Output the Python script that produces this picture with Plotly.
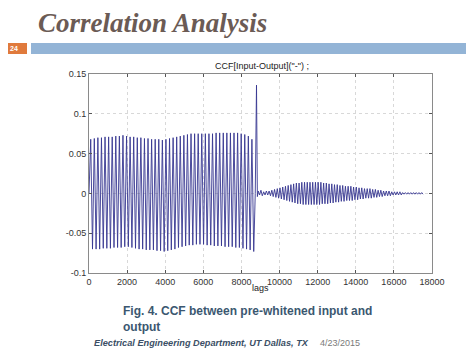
import plotly.graph_objects as go

# ---- data (extrema of the CCF curve) ----
seg1_peak_lags = [90, 278, 466, 654, 842, 1030, 1218, 1406, 1594, 1782, 1970, 2158, 2346, 2534, 2722,
                  2910, 3098, 3286, 3474, 3662, 3850, 4038, 4226, 4414, 4602, 4790, 4978, 5166, 5354,
                  5542, 5730, 5918, 6106, 6294, 6482, 6670, 6858, 7046, 7234, 7422, 7610, 7798, 7986,
                  8174, 8362, 8550]
seg1_peak_vals = [0.068, 0.069, 0.070, 0.070, 0.071, 0.071, 0.071, 0.072, 0.072, 0.073, 0.072, 0.071,
                  0.071, 0.070, 0.070, 0.069, 0.069, 0.068, 0.068, 0.068, 0.067, 0.068, 0.069, 0.070,
                  0.071, 0.072, 0.073, 0.074, 0.075, 0.075, 0.075, 0.075, 0.075, 0.075, 0.075, 0.076,
                  0.076, 0.076, 0.076, 0.076, 0.076, 0.076, 0.075, 0.074, 0.072, 0.068]
seg1_trough_lags = [184, 372, 560, 748, 936, 1124, 1312, 1500, 1688, 1876, 2064, 2252, 2440, 2628, 2816,
                    3004, 3192, 3380, 3568, 3756, 3944, 4132, 4320, 4508, 4696, 4884, 5072, 5260, 5448,
                    5636, 5824, 6012, 6200, 6388, 6576, 6764, 6952, 7140, 7328, 7516, 7704, 7892, 8080,
                    8268, 8456, 8644]
seg1_trough_vals = [-0.070, -0.070, -0.070, -0.069, -0.069, -0.069, -0.068, -0.068, -0.068, -0.067,
                    -0.067, -0.068, -0.069, -0.070, -0.070, -0.071, -0.071, -0.071, -0.072, -0.072,
                    -0.073, -0.072, -0.071, -0.070, -0.068, -0.067, -0.066, -0.065, -0.065, -0.064,
                    -0.064, -0.064, -0.065, -0.065, -0.066, -0.066, -0.066, -0.067, -0.067, -0.067,
                    -0.068, -0.068, -0.069, -0.070, -0.071, -0.073]

spike_lags = [0, 8725, 8790, 8835]
spike_vals = [0.0, 0.0, 0.136, -0.004]

seg2_peak_lags = [8880, 9023, 9166, 9309, 9452, 9595, 9738, 9881, 10024, 10167, 10310, 10453, 10596,
                  10739, 10882, 11025, 11168, 11311, 11454, 11597, 11740, 11883, 12026, 12169, 12312,
                  12455, 12598, 12741, 12884, 13027, 13170, 13313, 13456, 13599, 13742, 13885, 14028,
                  14171, 14314, 14457, 14600, 14743, 14886, 15029, 15172, 15315, 15458, 15601, 15744,
                  15887, 16030, 16173, 16316, 16459, 16602, 16745, 16888, 17031, 17174, 17317, 17460]
seg2_peak_vals = [0.003, 0.004, 0.002, 0.003, 0.003, 0.004, 0.005, 0.006, 0.007, 0.008, 0.009, 0.010,
                  0.011, 0.012, 0.013, 0.013, 0.014, 0.014, 0.014, 0.014, 0.014, 0.014, 0.014, 0.014,
                  0.013, 0.013, 0.012, 0.012, 0.011, 0.011, 0.010, 0.010, 0.009, 0.009, 0.009, 0.008,
                  0.008, 0.007, 0.007, 0.006, 0.006, 0.006, 0.005, 0.005, 0.004, 0.004, 0.003, 0.003,
                  0.003, 0.002, 0.002, 0.002, 0.002, 0.001, 0.001, 0.001, 0.001, 0.001, 0.001, 0.001,
                  0.001]
seg2_trough_lags = [8951, 9094, 9237, 9380, 9523, 9666, 9809, 9952, 10095, 10238, 10381, 10524, 10667,
                    10810, 10953, 11096, 11239, 11382, 11525, 11668, 11811, 11954, 12097, 12240, 12383,
                    12526, 12669, 12812, 12955, 13098, 13241, 13384, 13527, 13670, 13813, 13956, 14099,
                    14242, 14385, 14528, 14671, 14814, 14957, 15100, 15243, 15386, 15529, 15672, 15815,
                    15958, 16101, 16244, 16387, 16530, 16673, 16816, 16959, 17102, 17245, 17388, 17531]
seg2_trough_vals = [-0.002, -0.003, -0.002, -0.002, -0.003, -0.004, -0.005, -0.006, -0.007, -0.008,
                    -0.009, -0.010, -0.011, -0.012, -0.013, -0.013, -0.014, -0.014, -0.014, -0.014,
                    -0.014, -0.014, -0.014, -0.013, -0.013, -0.013, -0.012, -0.012, -0.011, -0.011,
                    -0.010, -0.010, -0.009, -0.009, -0.009, -0.008, -0.008, -0.007, -0.007, -0.006,
                    -0.006, -0.006, -0.005, -0.005, -0.004, -0.004, -0.003, -0.003, -0.003, -0.002,
                    -0.002, -0.002, -0.002, -0.001, -0.001, -0.001, -0.001, -0.001, -0.001, -0.001,
                    -0.001]

x_ticks = [0, 2000, 4000, 6000, 8000, 10000, 12000, 14000, 16000, 18000]
y_ticks = [-0.1, -0.05, 0, 0.05, 0.1, 0.15]
y_tick_labels = ["-0.1", "-0.05", "0", "0.05", "0.1", "0.15"]

# ---- assemble the curve ----
pts = list(zip(seg1_peak_lags, seg1_peak_vals)) + list(zip(seg1_trough_lags, seg1_trough_vals)) \
    + list(zip(spike_lags, spike_vals)) \
    + list(zip(seg2_peak_lags, seg2_peak_vals)) + list(zip(seg2_trough_lags, seg2_trough_vals))
pts.sort(key=lambda p: p[0])
lags = [p[0] for p in pts]
ccf = [p[1] for p in pts]

# The page body has an 8px default margin, so the figure is sized to fill the rest.
OFF = 8
W, H = 474 - OFF, 355 - OFF
L, R, T, B = 89, 432, 74, 273   # plot box in page pixels


def px(x):
    return (x - OFF) / W


def py(y):
    return 1 - (y - OFF) / H


fig = go.Figure()
fig.add_trace(go.Scatter(x=lags, y=ccf, mode="lines",
                         line=dict(color="rgb(55,55,145)", width=0.9),
                         hoverinfo="skip", showlegend=False))

axis_common = dict(showline=True, linecolor="#8a8a8a", linewidth=1, mirror="ticks",
                   ticks="inside", ticklen=3, tickcolor="#555", tickwidth=1,
                   showgrid=True, gridcolor="#d8d8d8", griddash="dot", gridwidth=1,
                   zeroline=False, automargin=False,
                   tickfont=dict(family="Arial, Liberation Sans", size=9, color="#333"))

fig.update_xaxes(range=[0, 18000], tickvals=x_ticks, ticktext=[str(v) for v in x_ticks],
                 domain=[px(L), px(R)], **axis_common)
fig.update_yaxes(range=[-0.1, 0.15], tickvals=y_ticks, ticktext=y_tick_labels,
                 domain=[py(B), py(T)], **axis_common)

shapes = [
    dict(type="rect", xref="paper", yref="paper", x0=px(0), x1=px(27), y0=py(54), y1=py(43),
         fillcolor="#e07a3c", line=dict(width=0), layer="below"),
    dict(type="rect", xref="paper", yref="paper", x0=px(31), x1=px(474), y0=py(54), y1=py(43),
         fillcolor="#93b4d6", line=dict(width=0), layer="below"),
]


def ann(text, x, y, size, color, family="Arial, Liberation Sans", xanchor="left", yanchor="middle"):
    return dict(text=text, xref="paper", yref="paper", x=px(x), y=py(y), showarrow=False,
                xanchor=xanchor, yanchor=yanchor, borderpad=0,
                font=dict(family=family, size=size, color=color))


annotations = [
    ann("<b><i>Correlation Analysis</i></b>", 37, 23, 27, "#6b5b55", family="Liberation Serif, Georgia, serif"),
    ann("<b>24</b>", 14, 49, 7, "white", xanchor="center"),
    ann('CCF[Input-Output]("-") ;', 262, 66, 9, "#222", xanchor="center"),
    ann("lags", 260, 288, 9, "#222", xanchor="center"),
    ann("<b>Fig. 4. CCF between pre-whitened input and</b>", 122, 311, 12, "#3b5770"),
    ann("<b>output</b>", 122, 327, 12, "#3b5770"),
    ann("<b><i>Electrical Engineering Department, UT Dallas, TX</i></b>", 93, 343, 9.2, "#3b4f66"),
    ann("4/23/2015", 319, 343, 9, "#7a7a7a"),
]

fig.update_layout(width=W, height=H, margin=dict(l=0, r=0, t=0, b=0),
                  paper_bgcolor="white", plot_bgcolor="white",
                  shapes=shapes, annotations=annotations, showlegend=False)

fig.write_html("out.html")
